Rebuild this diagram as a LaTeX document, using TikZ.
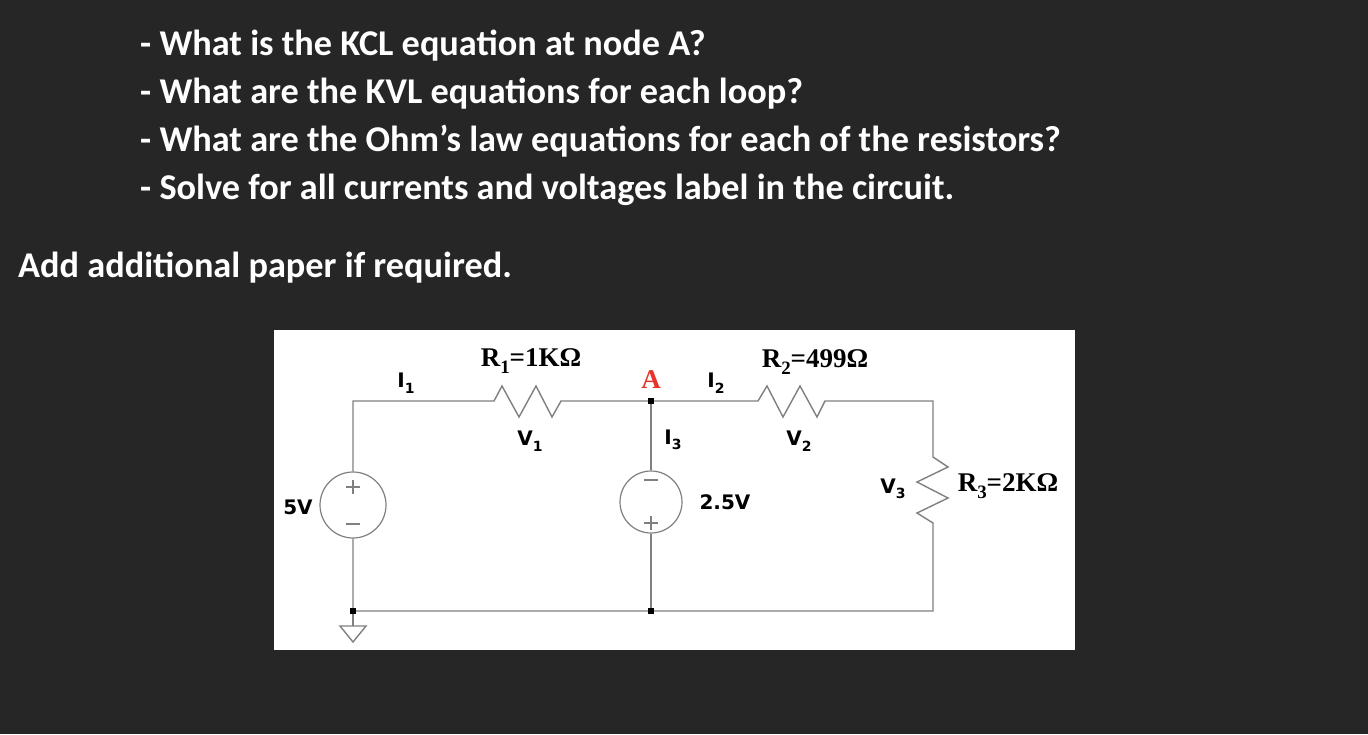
\documentclass[tikz,border=0pt]{standalone}
\usepackage{fontspec}
\setmainfont{Carlito}
\newfontfamily\serifb{Liberation Serif}
\newfontfamily\dv{DejaVu Sans}
\definecolor{bg}{HTML}{262626}
\definecolor{wire}{HTML}{808080}
\definecolor{ared}{HTML}{E8332A}
\newcommand{\sbx}[1]{\raisebox{-0.28em}{\scalebox{0.7}{#1}}}
\begin{document}
\begin{tikzpicture}[x=1pt,y=-1pt,
  wr/.style={draw=wire,line width=1.4pt},
  q/.style={text=white,font=\bfseries\fontsize{36.3}{40}\selectfont,anchor=base west,inner sep=0},
  rl/.style={font=\serifb\bfseries\fontsize{27}{30}\selectfont,inner sep=0},
  cl/.style={font=\dv\bfseries\fontsize{20}{22}\selectfont,inner sep=0},
  dot/.style={fill=black,minimum size=6pt,inner sep=0}]
\useasboundingbox (0,0) rectangle (1368,734);
\fill[bg] (0,0) rectangle (1368,734);
\node[q] (t1) at (140,55) {- What is the KCL equation at node A?};
\node[q] (t2) at (140,103) {- What are the KVL equations for each loop?};
\node[q] (t3) at (140,151) {- What are the Ohm’s law equations for each of the resistors?};
\node[q] (t4) at (140,199) {- Solve for all currents and voltages label in the circuit.};
\node[q] (t5) at (18,277) {Add additional paper if required.};
\fill[white] (274,330) rectangle (1075,650);
\coordinate (TL) at (353,401);
\coordinate (BL) at (353,611);
\coordinate (TA) at (651,401);
\coordinate (BA) at (651,611);
\coordinate (TR) at (933,401);
\coordinate (BR) at (933,611);
\node[circle,draw=wire,line width=1.2pt,minimum size=66pt,inner sep=0] (S1) at (353,505) {};
\node[circle,draw=wire,line width=1.2pt,minimum size=62pt,inner sep=0] (S2) at (651,502) {};
\coordinate (R1a) at (494,401); \coordinate (R1b) at (561,401);
\coordinate (R2a) at (758,401); \coordinate (R2b) at (825,401);
\coordinate (R3a) at (933,457); \coordinate (R3b) at (933,523);
\draw[wr] (S1.north) -- (TL) -- (R1a) -- ++(8,-15) -- ++(17,31) -- ++(17,-31) -- ++(16,31) -- (R1b) -- (TA) -- (R2a) -- ++(9,-15) -- ++(16,31) -- ++(17,-31) -- ++(17,31) -- (R2b) -- (TR) -- (R3a) -- ++(15,10) -- ++(-31,15) -- ++(31,16) -- ++(-31,15) -- (R3b) -- (BR) -- (BL) -- (S1.south);
\draw[wr] (TA) -- (S2.north);
\draw[wr] (S2.south) -- (BA);
\draw[wr] (BL) -- (353,626);
\draw[wr] (340,626) -- (366,626) -- (353,642) -- cycle;
\node[dot] (d1) at (BL) {};
\node[dot] (d2) at (TA) {};
\node[dot] (d3) at (BA) {};
\draw[draw=wire,line width=1.1pt] (353,480) -- (353,494) (346,487) -- (360,487) (346,524) -- (360,524);
\draw[draw=wire,line width=1.1pt] (644,480) -- (658,480) (651,516) -- (651,530) (644,523) -- (658,523);
\node[rl] (lR1) at (531,361) {R\sbx{1}=1KΩ};
\node[rl] (lR2) at (815,362) {R\sbx{2}=499Ω};
\node[rl] (lR3) at (1008,486) {R\sbx{3}=2KΩ};
\node[rl,text=ared] (lA) at (651,380) {A};
\node[cl] (lI1) at (406,383) {I\sbx{1}};
\node[cl] (lI2) at (716,383) {I\sbx{2}};
\node[cl] (lI3) at (673,440) {I\sbx{3}};
\node[cl] (lV1) at (530,441) {V\sbx{1}};
\node[cl] (lV2) at (799,441) {V\sbx{2}};
\node[cl] (lV3) at (893,489) {V\sbx{3}};
\node[cl] (l25) at (725,502) {2.5V};
\node[cl] (l5) at (298,507) {5V};
\end{tikzpicture}
\end{document}
